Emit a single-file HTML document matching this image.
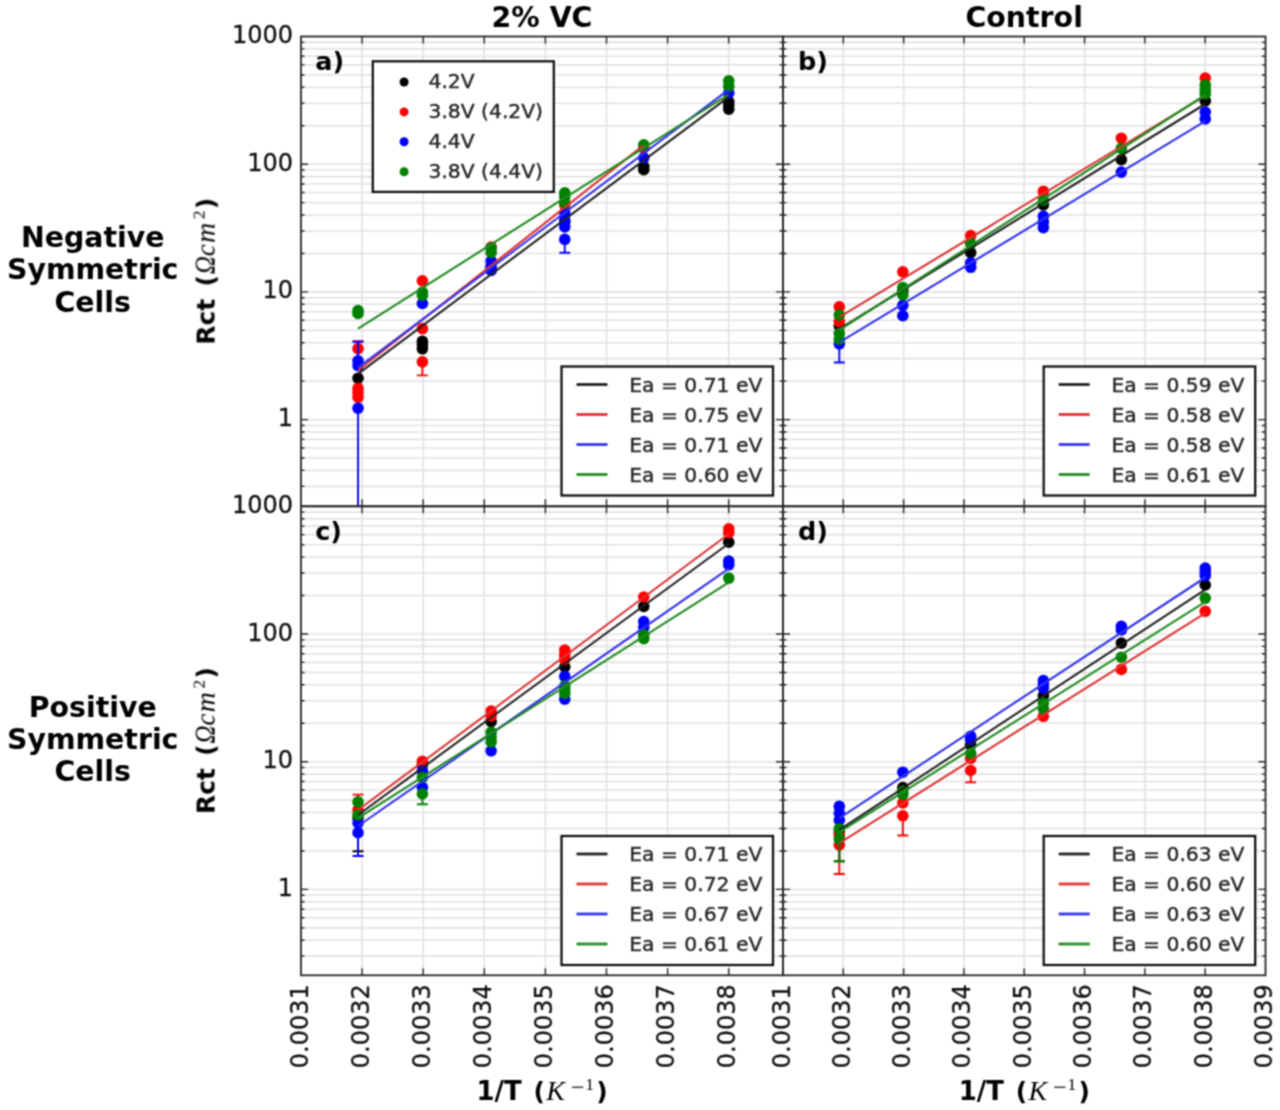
<!DOCTYPE html>
<html><head><meta charset="utf-8"><title>Rct vs 1/T</title>
<style>html,body{margin:0;padding:0;background:#fff;}body{width:1280px;height:1110px;overflow:hidden;}svg{display:block;}</style>
</head><body>
<svg id="fig" width="1280" height="1110" viewBox="0 0 1280 1110"><defs><filter id="bl" x="0" y="0" width="1" height="1" color-interpolation-filters="sRGB"><feConvolveMatrix order="3" kernelMatrix="1 2 1 2 4 2 1 2 1" edgeMode="none"/></filter></defs><rect width="1280" height="1110" fill="#fff"/><g filter="url(#bl)"><path d="M362.10 36.50V506.30M423.20 36.50V506.30M484.30 36.50V506.30M545.40 36.50V506.30M606.50 36.50V506.30M667.60 36.50V506.30M728.70 36.50V506.30M301.00 486.37H783.00M301.00 470.42H783.00M301.00 458.04H783.00M301.00 447.93H783.00M301.00 439.38H783.00M301.00 431.98H783.00M301.00 425.44H783.00M301.00 419.60H783.00M301.00 381.16H783.00M301.00 358.67H783.00M301.00 342.72H783.00M301.00 330.34H783.00M301.00 320.23H783.00M301.00 311.68H783.00M301.00 304.28H783.00M301.00 297.74H783.00M301.00 291.90H783.00M301.00 253.46H783.00M301.00 230.97H783.00M301.00 215.02H783.00M301.00 202.64H783.00M301.00 192.53H783.00M301.00 183.98H783.00M301.00 176.58H783.00M301.00 170.04H783.00M301.00 164.20H783.00M301.00 125.76H783.00M301.00 103.27H783.00M301.00 87.32H783.00M301.00 74.94H783.00M301.00 64.83H783.00M301.00 56.28H783.00M301.00 48.88H783.00M301.00 42.34H783.00M362.10 506.30V975.30M423.20 506.30V975.30M484.30 506.30V975.30M545.40 506.30V975.30M606.50 506.30V975.30M667.60 506.30V975.30M728.70 506.30V975.30M301.00 956.17H783.00M301.00 940.22H783.00M301.00 927.84H783.00M301.00 917.73H783.00M301.00 909.18H783.00M301.00 901.78H783.00M301.00 895.24H783.00M301.00 889.40H783.00M301.00 850.96H783.00M301.00 828.47H783.00M301.00 812.52H783.00M301.00 800.14H783.00M301.00 790.03H783.00M301.00 781.48H783.00M301.00 774.08H783.00M301.00 767.54H783.00M301.00 761.70H783.00M301.00 723.26H783.00M301.00 700.77H783.00M301.00 684.82H783.00M301.00 672.44H783.00M301.00 662.33H783.00M301.00 653.78H783.00M301.00 646.38H783.00M301.00 639.84H783.00M301.00 634.00H783.00M301.00 595.56H783.00M301.00 573.07H783.00M301.00 557.12H783.00M301.00 544.74H783.00M301.00 534.63H783.00M301.00 526.08H783.00M301.00 518.68H783.00M301.00 512.14H783.00M843.31 36.50V506.30M903.62 36.50V506.30M963.94 36.50V506.30M1024.25 36.50V506.30M1084.56 36.50V506.30M1144.88 36.50V506.30M1205.19 36.50V506.30M783.00 486.37H1265.50M783.00 470.42H1265.50M783.00 458.04H1265.50M783.00 447.93H1265.50M783.00 439.38H1265.50M783.00 431.98H1265.50M783.00 425.44H1265.50M783.00 419.60H1265.50M783.00 381.16H1265.50M783.00 358.67H1265.50M783.00 342.72H1265.50M783.00 330.34H1265.50M783.00 320.23H1265.50M783.00 311.68H1265.50M783.00 304.28H1265.50M783.00 297.74H1265.50M783.00 291.90H1265.50M783.00 253.46H1265.50M783.00 230.97H1265.50M783.00 215.02H1265.50M783.00 202.64H1265.50M783.00 192.53H1265.50M783.00 183.98H1265.50M783.00 176.58H1265.50M783.00 170.04H1265.50M783.00 164.20H1265.50M783.00 125.76H1265.50M783.00 103.27H1265.50M783.00 87.32H1265.50M783.00 74.94H1265.50M783.00 64.83H1265.50M783.00 56.28H1265.50M783.00 48.88H1265.50M783.00 42.34H1265.50M843.31 506.30V975.30M903.62 506.30V975.30M963.94 506.30V975.30M1024.25 506.30V975.30M1084.56 506.30V975.30M1144.88 506.30V975.30M1205.19 506.30V975.30M783.00 956.17H1265.50M783.00 940.22H1265.50M783.00 927.84H1265.50M783.00 917.73H1265.50M783.00 909.18H1265.50M783.00 901.78H1265.50M783.00 895.24H1265.50M783.00 889.40H1265.50M783.00 850.96H1265.50M783.00 828.47H1265.50M783.00 812.52H1265.50M783.00 800.14H1265.50M783.00 790.03H1265.50M783.00 781.48H1265.50M783.00 774.08H1265.50M783.00 767.54H1265.50M783.00 761.70H1265.50M783.00 723.26H1265.50M783.00 700.77H1265.50M783.00 684.82H1265.50M783.00 672.44H1265.50M783.00 662.33H1265.50M783.00 653.78H1265.50M783.00 646.38H1265.50M783.00 639.84H1265.50M783.00 634.00H1265.50M783.00 595.56H1265.50M783.00 573.07H1265.50M783.00 557.12H1265.50M783.00 544.74H1265.50M783.00 534.63H1265.50M783.00 526.08H1265.50M783.00 518.68H1265.50M783.00 512.14H1265.50" stroke="#e2e2e2" stroke-width="1.6" fill="none"/><svg x="301.0" y="36.5" width="482.0" height="469.8" viewBox="301.0 36.5 482.0 469.8" overflow="hidden"><circle cx="358.04" cy="378.20" r="5.8" fill="#000000"/><circle cx="422.40" cy="341.20" r="5.8" fill="#000000"/><circle cx="422.40" cy="345.00" r="5.8" fill="#000000"/><circle cx="422.40" cy="348.80" r="5.8" fill="#000000"/><circle cx="491.16" cy="268.00" r="5.8" fill="#000000"/><circle cx="564.77" cy="222.00" r="5.8" fill="#000000"/><circle cx="643.77" cy="166.50" r="5.8" fill="#000000"/><circle cx="643.77" cy="169.70" r="5.8" fill="#000000"/><circle cx="728.77" cy="101.60" r="5.8" fill="#000000"/><circle cx="728.77" cy="105.00" r="5.8" fill="#000000"/><circle cx="728.77" cy="109.20" r="5.8" fill="#000000"/><path d="M358.04 348.60V341.30" stroke="#ff0000" stroke-width="1.9" fill="none"/><path d="M352.54 341.30H363.54" stroke="#ff0000" stroke-width="1.9" fill="none"/><path d="M422.40 361.90V375.40" stroke="#ff0000" stroke-width="1.9" fill="none"/><path d="M416.90 375.40H427.90" stroke="#ff0000" stroke-width="1.9" fill="none"/><circle cx="358.04" cy="348.60" r="5.8" fill="#ff0000"/><circle cx="358.04" cy="388.30" r="5.8" fill="#ff0000"/><circle cx="358.04" cy="392.50" r="5.8" fill="#ff0000"/><circle cx="358.04" cy="397.30" r="5.8" fill="#ff0000"/><circle cx="422.40" cy="280.80" r="5.8" fill="#ff0000"/><circle cx="422.40" cy="328.60" r="5.8" fill="#ff0000"/><circle cx="422.40" cy="361.90" r="5.8" fill="#ff0000"/><circle cx="491.16" cy="247.00" r="5.8" fill="#ff0000"/><circle cx="564.77" cy="205.00" r="5.8" fill="#ff0000"/><circle cx="643.77" cy="148.00" r="5.8" fill="#ff0000"/><path d="M358.04 360.80V341.80" stroke="#0000ff" stroke-width="1.9" fill="none"/><path d="M352.54 341.80H363.54" stroke="#0000ff" stroke-width="1.9" fill="none"/><path d="M358.04 408.20V520.00" stroke="#0000ff" stroke-width="1.9" fill="none"/><path d="M564.77 239.40V252.70" stroke="#0000ff" stroke-width="1.9" fill="none"/><path d="M559.27 252.70H570.27" stroke="#0000ff" stroke-width="1.9" fill="none"/><circle cx="358.04" cy="360.80" r="5.8" fill="#0000ff"/><circle cx="358.04" cy="365.70" r="5.8" fill="#0000ff"/><circle cx="358.04" cy="408.20" r="5.8" fill="#0000ff"/><circle cx="422.40" cy="303.50" r="5.8" fill="#0000ff"/><circle cx="491.16" cy="261.00" r="5.8" fill="#0000ff"/><circle cx="491.16" cy="266.00" r="5.8" fill="#0000ff"/><circle cx="491.16" cy="270.50" r="5.8" fill="#0000ff"/><circle cx="564.77" cy="213.00" r="5.8" fill="#0000ff"/><circle cx="564.77" cy="220.00" r="5.8" fill="#0000ff"/><circle cx="564.77" cy="227.00" r="5.8" fill="#0000ff"/><circle cx="564.77" cy="239.40" r="5.8" fill="#0000ff"/><circle cx="643.77" cy="157.80" r="5.8" fill="#0000ff"/><circle cx="728.77" cy="93.00" r="5.8" fill="#0000ff"/><circle cx="358.04" cy="310.50" r="5.8" fill="#008000"/><circle cx="358.04" cy="313.50" r="5.8" fill="#008000"/><circle cx="422.40" cy="292.20" r="5.8" fill="#008000"/><circle cx="422.40" cy="295.30" r="5.8" fill="#008000"/><circle cx="491.16" cy="248.00" r="5.8" fill="#008000"/><circle cx="491.16" cy="252.50" r="5.8" fill="#008000"/><circle cx="564.77" cy="192.80" r="5.8" fill="#008000"/><circle cx="564.77" cy="197.00" r="5.8" fill="#008000"/><circle cx="564.77" cy="202.90" r="5.8" fill="#008000"/><circle cx="643.77" cy="144.90" r="5.8" fill="#008000"/><circle cx="728.77" cy="80.80" r="5.8" fill="#008000"/><circle cx="728.77" cy="86.50" r="5.8" fill="#008000"/><path d="M358.04 373.80L728.77 96.90" stroke="#222222" stroke-width="2.1" fill="none"/><path d="M358.04 370.50L643.77 145.10" stroke="#dd3333" stroke-width="2.1" fill="none"/><path d="M358.04 367.70L728.77 89.70" stroke="#3333ee" stroke-width="2.1" fill="none"/><path d="M358.04 328.60L728.77 94.30" stroke="#228b22" stroke-width="2.1" fill="none"/></svg><svg x="301.0" y="506.3" width="482.0" height="468.99999999999994" viewBox="301.0 506.3 482.0 468.99999999999994" overflow="hidden"><path d="M358.04 818.00V851.30" stroke="#000000" stroke-width="1.9" fill="none"/><path d="M352.54 851.30H363.54" stroke="#000000" stroke-width="1.9" fill="none"/><circle cx="358.04" cy="818.00" r="5.8" fill="#000000"/><circle cx="422.40" cy="764.60" r="5.8" fill="#000000"/><circle cx="491.16" cy="721.60" r="5.8" fill="#000000"/><circle cx="564.77" cy="667.00" r="5.8" fill="#000000"/><circle cx="643.77" cy="606.50" r="5.8" fill="#000000"/><circle cx="728.77" cy="542.20" r="5.8" fill="#000000"/><path d="M358.04 810.00V794.60" stroke="#ff0000" stroke-width="1.9" fill="none"/><path d="M352.54 794.60H363.54" stroke="#ff0000" stroke-width="1.9" fill="none"/><circle cx="358.04" cy="810.00" r="5.8" fill="#ff0000"/><circle cx="422.40" cy="761.30" r="5.8" fill="#ff0000"/><circle cx="491.16" cy="711.00" r="5.8" fill="#ff0000"/><circle cx="491.16" cy="716.00" r="5.8" fill="#ff0000"/><circle cx="564.77" cy="650.00" r="5.8" fill="#ff0000"/><circle cx="564.77" cy="655.00" r="5.8" fill="#ff0000"/><circle cx="564.77" cy="659.40" r="5.8" fill="#ff0000"/><circle cx="643.77" cy="597.00" r="5.8" fill="#ff0000"/><circle cx="728.77" cy="528.90" r="5.8" fill="#ff0000"/><circle cx="728.77" cy="532.70" r="5.8" fill="#ff0000"/><path d="M358.04 832.70V856.00" stroke="#0000ff" stroke-width="1.9" fill="none"/><path d="M352.54 856.00H363.54" stroke="#0000ff" stroke-width="1.9" fill="none"/><circle cx="358.04" cy="823.00" r="5.8" fill="#0000ff"/><circle cx="358.04" cy="832.70" r="5.8" fill="#0000ff"/><circle cx="422.40" cy="771.00" r="5.8" fill="#0000ff"/><circle cx="422.40" cy="787.30" r="5.8" fill="#0000ff"/><circle cx="491.16" cy="750.80" r="5.8" fill="#0000ff"/><circle cx="564.77" cy="676.40" r="5.8" fill="#0000ff"/><circle cx="564.77" cy="699.10" r="5.8" fill="#0000ff"/><circle cx="643.77" cy="621.60" r="5.8" fill="#0000ff"/><circle cx="643.77" cy="627.30" r="5.8" fill="#0000ff"/><circle cx="728.77" cy="561.00" r="5.8" fill="#0000ff"/><circle cx="728.77" cy="564.80" r="5.8" fill="#0000ff"/><path d="M422.40 793.80V804.30" stroke="#008000" stroke-width="1.9" fill="none"/><path d="M416.90 804.30H427.90" stroke="#008000" stroke-width="1.9" fill="none"/><circle cx="358.04" cy="801.90" r="5.8" fill="#008000"/><circle cx="358.04" cy="814.80" r="5.8" fill="#008000"/><circle cx="422.40" cy="777.50" r="5.8" fill="#008000"/><circle cx="422.40" cy="793.80" r="5.8" fill="#008000"/><circle cx="491.16" cy="732.20" r="5.8" fill="#008000"/><circle cx="491.16" cy="737.00" r="5.8" fill="#008000"/><circle cx="491.16" cy="741.90" r="5.8" fill="#008000"/><circle cx="564.77" cy="685.90" r="5.8" fill="#008000"/><circle cx="564.77" cy="689.70" r="5.8" fill="#008000"/><circle cx="564.77" cy="693.50" r="5.8" fill="#008000"/><circle cx="643.77" cy="634.80" r="5.8" fill="#008000"/><circle cx="643.77" cy="638.60" r="5.8" fill="#008000"/><circle cx="728.77" cy="578.10" r="5.8" fill="#008000"/><path d="M358.04 815.00L728.77 543.50" stroke="#222222" stroke-width="2.1" fill="none"/><path d="M358.04 810.00L728.77 534.00" stroke="#dd3333" stroke-width="2.1" fill="none"/><path d="M358.04 826.00L728.77 568.60" stroke="#3333ee" stroke-width="2.1" fill="none"/><path d="M358.04 818.00L728.77 582.30" stroke="#228b22" stroke-width="2.1" fill="none"/></svg><svg x="783.0" y="36.5" width="482.5" height="469.8" viewBox="783.0 36.5 482.5 469.8" overflow="hidden"><circle cx="839.31" cy="326.10" r="5.8" fill="#000000"/><circle cx="902.84" cy="291.00" r="5.8" fill="#000000"/><circle cx="970.71" cy="252.60" r="5.8" fill="#000000"/><circle cx="1043.37" cy="205.00" r="5.8" fill="#000000"/><circle cx="1121.35" cy="159.70" r="5.8" fill="#000000"/><circle cx="1205.26" cy="100.80" r="5.8" fill="#000000"/><circle cx="839.31" cy="306.80" r="5.8" fill="#ff0000"/><circle cx="839.31" cy="321.60" r="5.8" fill="#ff0000"/><circle cx="902.84" cy="271.90" r="5.8" fill="#ff0000"/><circle cx="970.71" cy="235.60" r="5.8" fill="#ff0000"/><circle cx="1043.37" cy="191.40" r="5.8" fill="#ff0000"/><circle cx="1121.35" cy="138.20" r="5.8" fill="#ff0000"/><circle cx="1205.26" cy="78.10" r="5.8" fill="#ff0000"/><path d="M839.31 343.90V362.50" stroke="#0000ff" stroke-width="1.9" fill="none"/><path d="M833.81 362.50H844.81" stroke="#0000ff" stroke-width="1.9" fill="none"/><circle cx="839.31" cy="343.90" r="5.8" fill="#0000ff"/><circle cx="902.84" cy="305.30" r="5.8" fill="#0000ff"/><circle cx="902.84" cy="315.70" r="5.8" fill="#0000ff"/><circle cx="970.71" cy="262.80" r="5.8" fill="#0000ff"/><circle cx="970.71" cy="267.30" r="5.8" fill="#0000ff"/><circle cx="1043.37" cy="216.30" r="5.8" fill="#0000ff"/><circle cx="1043.37" cy="222.00" r="5.8" fill="#0000ff"/><circle cx="1043.37" cy="227.60" r="5.8" fill="#0000ff"/><circle cx="1121.35" cy="172.10" r="5.8" fill="#0000ff"/><circle cx="1205.26" cy="112.10" r="5.8" fill="#0000ff"/><circle cx="1205.26" cy="118.90" r="5.8" fill="#0000ff"/><circle cx="839.31" cy="315.00" r="5.8" fill="#008000"/><circle cx="839.31" cy="333.50" r="5.8" fill="#008000"/><circle cx="839.31" cy="339.50" r="5.8" fill="#008000"/><circle cx="902.84" cy="287.50" r="5.8" fill="#008000"/><circle cx="902.84" cy="295.00" r="5.8" fill="#008000"/><circle cx="970.71" cy="243.50" r="5.8" fill="#008000"/><circle cx="1043.37" cy="200.50" r="5.8" fill="#008000"/><circle cx="1121.35" cy="148.40" r="5.8" fill="#008000"/><circle cx="1205.26" cy="85.00" r="5.8" fill="#008000"/><circle cx="1205.26" cy="90.00" r="5.8" fill="#008000"/><circle cx="1205.26" cy="94.00" r="5.8" fill="#008000"/><path d="M839.31 329.00L1205.26 104.00" stroke="#222222" stroke-width="2.1" fill="none"/><path d="M839.31 317.20L1205.26 95.60" stroke="#dd3333" stroke-width="2.1" fill="none"/><path d="M839.31 342.40L1205.26 121.20" stroke="#3333ee" stroke-width="2.1" fill="none"/><path d="M839.31 330.00L1205.26 95.00" stroke="#228b22" stroke-width="2.1" fill="none"/></svg><svg x="783.0" y="506.3" width="482.5" height="468.99999999999994" viewBox="783.0 506.3 482.5 468.99999999999994" overflow="hidden"><path d="M839.31 832.00V861.20" stroke="#000000" stroke-width="1.9" fill="none"/><path d="M833.81 861.20H844.81" stroke="#000000" stroke-width="1.9" fill="none"/><circle cx="839.31" cy="832.00" r="5.8" fill="#000000"/><circle cx="902.84" cy="787.60" r="5.8" fill="#000000"/><circle cx="970.71" cy="744.80" r="5.8" fill="#000000"/><circle cx="1043.37" cy="695.60" r="5.8" fill="#000000"/><circle cx="1121.35" cy="643.10" r="5.8" fill="#000000"/><circle cx="1205.26" cy="585.00" r="5.8" fill="#000000"/><path d="M839.31 844.90V874.00" stroke="#ff0000" stroke-width="1.9" fill="none"/><path d="M833.81 874.00H844.81" stroke="#ff0000" stroke-width="1.9" fill="none"/><path d="M902.84 815.80V835.50" stroke="#ff0000" stroke-width="1.9" fill="none"/><path d="M897.34 835.50H908.34" stroke="#ff0000" stroke-width="1.9" fill="none"/><path d="M970.71 770.50V782.40" stroke="#ff0000" stroke-width="1.9" fill="none"/><path d="M965.21 782.40H976.21" stroke="#ff0000" stroke-width="1.9" fill="none"/><circle cx="839.31" cy="835.50" r="5.8" fill="#ff0000"/><circle cx="839.31" cy="844.90" r="5.8" fill="#ff0000"/><circle cx="902.84" cy="803.00" r="5.8" fill="#ff0000"/><circle cx="902.84" cy="815.80" r="5.8" fill="#ff0000"/><circle cx="970.71" cy="758.50" r="5.8" fill="#ff0000"/><circle cx="970.71" cy="770.50" r="5.8" fill="#ff0000"/><circle cx="1043.37" cy="716.30" r="5.8" fill="#ff0000"/><circle cx="1121.35" cy="669.40" r="5.8" fill="#ff0000"/><circle cx="1205.26" cy="611.30" r="5.8" fill="#ff0000"/><circle cx="839.31" cy="806.40" r="5.8" fill="#0000ff"/><circle cx="839.31" cy="813.20" r="5.8" fill="#0000ff"/><circle cx="839.31" cy="820.10" r="5.8" fill="#0000ff"/><circle cx="902.84" cy="772.20" r="5.8" fill="#0000ff"/><circle cx="970.71" cy="736.20" r="5.8" fill="#0000ff"/><circle cx="970.71" cy="739.60" r="5.8" fill="#0000ff"/><circle cx="1043.37" cy="680.60" r="5.8" fill="#0000ff"/><circle cx="1043.37" cy="684.40" r="5.8" fill="#0000ff"/><circle cx="1043.37" cy="688.10" r="5.8" fill="#0000ff"/><circle cx="1121.35" cy="626.30" r="5.8" fill="#0000ff"/><circle cx="1121.35" cy="630.00" r="5.8" fill="#0000ff"/><circle cx="1205.26" cy="568.10" r="5.8" fill="#0000ff"/><circle cx="1205.26" cy="571.90" r="5.8" fill="#0000ff"/><circle cx="1205.26" cy="575.60" r="5.8" fill="#0000ff"/><path d="M839.31 838.90V861.20" stroke="#008000" stroke-width="1.9" fill="none"/><path d="M833.81 861.20H844.81" stroke="#008000" stroke-width="1.9" fill="none"/><circle cx="839.31" cy="828.70" r="5.8" fill="#008000"/><circle cx="839.31" cy="838.90" r="5.8" fill="#008000"/><circle cx="902.84" cy="791.00" r="5.8" fill="#008000"/><circle cx="902.84" cy="794.40" r="5.8" fill="#008000"/><circle cx="970.71" cy="753.30" r="5.8" fill="#008000"/><circle cx="1043.37" cy="703.10" r="5.8" fill="#008000"/><circle cx="1043.37" cy="708.80" r="5.8" fill="#008000"/><circle cx="1121.35" cy="657.20" r="5.8" fill="#008000"/><circle cx="1205.26" cy="598.10" r="5.8" fill="#008000"/><path d="M839.31 830.00L1205.26 589.70" stroke="#222222" stroke-width="2.1" fill="none"/><path d="M839.31 843.20L1205.26 613.10" stroke="#dd3333" stroke-width="2.1" fill="none"/><path d="M839.31 818.20L1205.26 577.50" stroke="#3333ee" stroke-width="2.1" fill="none"/><path d="M839.31 832.10L1205.26 601.90" stroke="#228b22" stroke-width="2.1" fill="none"/></svg><path d="M362.10 506.30v-7M362.10 36.50v7M423.20 506.30v-7M423.20 36.50v7M484.30 506.30v-7M484.30 36.50v7M545.40 506.30v-7M545.40 36.50v7M606.50 506.30v-7M606.50 36.50v7M667.60 506.30v-7M667.60 36.50v7M728.70 506.30v-7M728.70 36.50v7M301.00 486.37h3.5M783.00 486.37h-3.5M301.00 470.42h3.5M783.00 470.42h-3.5M301.00 458.04h3.5M783.00 458.04h-3.5M301.00 447.93h3.5M783.00 447.93h-3.5M301.00 439.38h3.5M783.00 439.38h-3.5M301.00 431.98h3.5M783.00 431.98h-3.5M301.00 425.44h3.5M783.00 425.44h-3.5M301.00 419.60h7M783.00 419.60h-7M301.00 381.16h3.5M783.00 381.16h-3.5M301.00 358.67h3.5M783.00 358.67h-3.5M301.00 342.72h3.5M783.00 342.72h-3.5M301.00 330.34h3.5M783.00 330.34h-3.5M301.00 320.23h3.5M783.00 320.23h-3.5M301.00 311.68h3.5M783.00 311.68h-3.5M301.00 304.28h3.5M783.00 304.28h-3.5M301.00 297.74h3.5M783.00 297.74h-3.5M301.00 291.90h7M783.00 291.90h-7M301.00 253.46h3.5M783.00 253.46h-3.5M301.00 230.97h3.5M783.00 230.97h-3.5M301.00 215.02h3.5M783.00 215.02h-3.5M301.00 202.64h3.5M783.00 202.64h-3.5M301.00 192.53h3.5M783.00 192.53h-3.5M301.00 183.98h3.5M783.00 183.98h-3.5M301.00 176.58h3.5M783.00 176.58h-3.5M301.00 170.04h3.5M783.00 170.04h-3.5M301.00 164.20h7M783.00 164.20h-7M301.00 125.76h3.5M783.00 125.76h-3.5M301.00 103.27h3.5M783.00 103.27h-3.5M301.00 87.32h3.5M783.00 87.32h-3.5M301.00 74.94h3.5M783.00 74.94h-3.5M301.00 64.83h3.5M783.00 64.83h-3.5M301.00 56.28h3.5M783.00 56.28h-3.5M301.00 48.88h3.5M783.00 48.88h-3.5M301.00 42.34h3.5M783.00 42.34h-3.5M362.10 975.30v-7M362.10 506.30v7M423.20 975.30v-7M423.20 506.30v7M484.30 975.30v-7M484.30 506.30v7M545.40 975.30v-7M545.40 506.30v7M606.50 975.30v-7M606.50 506.30v7M667.60 975.30v-7M667.60 506.30v7M728.70 975.30v-7M728.70 506.30v7M301.00 956.17h3.5M783.00 956.17h-3.5M301.00 940.22h3.5M783.00 940.22h-3.5M301.00 927.84h3.5M783.00 927.84h-3.5M301.00 917.73h3.5M783.00 917.73h-3.5M301.00 909.18h3.5M783.00 909.18h-3.5M301.00 901.78h3.5M783.00 901.78h-3.5M301.00 895.24h3.5M783.00 895.24h-3.5M301.00 889.40h7M783.00 889.40h-7M301.00 850.96h3.5M783.00 850.96h-3.5M301.00 828.47h3.5M783.00 828.47h-3.5M301.00 812.52h3.5M783.00 812.52h-3.5M301.00 800.14h3.5M783.00 800.14h-3.5M301.00 790.03h3.5M783.00 790.03h-3.5M301.00 781.48h3.5M783.00 781.48h-3.5M301.00 774.08h3.5M783.00 774.08h-3.5M301.00 767.54h3.5M783.00 767.54h-3.5M301.00 761.70h7M783.00 761.70h-7M301.00 723.26h3.5M783.00 723.26h-3.5M301.00 700.77h3.5M783.00 700.77h-3.5M301.00 684.82h3.5M783.00 684.82h-3.5M301.00 672.44h3.5M783.00 672.44h-3.5M301.00 662.33h3.5M783.00 662.33h-3.5M301.00 653.78h3.5M783.00 653.78h-3.5M301.00 646.38h3.5M783.00 646.38h-3.5M301.00 639.84h3.5M783.00 639.84h-3.5M301.00 634.00h7M783.00 634.00h-7M301.00 595.56h3.5M783.00 595.56h-3.5M301.00 573.07h3.5M783.00 573.07h-3.5M301.00 557.12h3.5M783.00 557.12h-3.5M301.00 544.74h3.5M783.00 544.74h-3.5M301.00 534.63h3.5M783.00 534.63h-3.5M301.00 526.08h3.5M783.00 526.08h-3.5M301.00 518.68h3.5M783.00 518.68h-3.5M301.00 512.14h3.5M783.00 512.14h-3.5M843.31 506.30v-7M843.31 36.50v7M903.62 506.30v-7M903.62 36.50v7M963.94 506.30v-7M963.94 36.50v7M1024.25 506.30v-7M1024.25 36.50v7M1084.56 506.30v-7M1084.56 36.50v7M1144.88 506.30v-7M1144.88 36.50v7M1205.19 506.30v-7M1205.19 36.50v7M783.00 486.37h3.5M1265.50 486.37h-3.5M783.00 470.42h3.5M1265.50 470.42h-3.5M783.00 458.04h3.5M1265.50 458.04h-3.5M783.00 447.93h3.5M1265.50 447.93h-3.5M783.00 439.38h3.5M1265.50 439.38h-3.5M783.00 431.98h3.5M1265.50 431.98h-3.5M783.00 425.44h3.5M1265.50 425.44h-3.5M783.00 419.60h7M1265.50 419.60h-7M783.00 381.16h3.5M1265.50 381.16h-3.5M783.00 358.67h3.5M1265.50 358.67h-3.5M783.00 342.72h3.5M1265.50 342.72h-3.5M783.00 330.34h3.5M1265.50 330.34h-3.5M783.00 320.23h3.5M1265.50 320.23h-3.5M783.00 311.68h3.5M1265.50 311.68h-3.5M783.00 304.28h3.5M1265.50 304.28h-3.5M783.00 297.74h3.5M1265.50 297.74h-3.5M783.00 291.90h7M1265.50 291.90h-7M783.00 253.46h3.5M1265.50 253.46h-3.5M783.00 230.97h3.5M1265.50 230.97h-3.5M783.00 215.02h3.5M1265.50 215.02h-3.5M783.00 202.64h3.5M1265.50 202.64h-3.5M783.00 192.53h3.5M1265.50 192.53h-3.5M783.00 183.98h3.5M1265.50 183.98h-3.5M783.00 176.58h3.5M1265.50 176.58h-3.5M783.00 170.04h3.5M1265.50 170.04h-3.5M783.00 164.20h7M1265.50 164.20h-7M783.00 125.76h3.5M1265.50 125.76h-3.5M783.00 103.27h3.5M1265.50 103.27h-3.5M783.00 87.32h3.5M1265.50 87.32h-3.5M783.00 74.94h3.5M1265.50 74.94h-3.5M783.00 64.83h3.5M1265.50 64.83h-3.5M783.00 56.28h3.5M1265.50 56.28h-3.5M783.00 48.88h3.5M1265.50 48.88h-3.5M783.00 42.34h3.5M1265.50 42.34h-3.5M843.31 975.30v-7M843.31 506.30v7M903.62 975.30v-7M903.62 506.30v7M963.94 975.30v-7M963.94 506.30v7M1024.25 975.30v-7M1024.25 506.30v7M1084.56 975.30v-7M1084.56 506.30v7M1144.88 975.30v-7M1144.88 506.30v7M1205.19 975.30v-7M1205.19 506.30v7M783.00 956.17h3.5M1265.50 956.17h-3.5M783.00 940.22h3.5M1265.50 940.22h-3.5M783.00 927.84h3.5M1265.50 927.84h-3.5M783.00 917.73h3.5M1265.50 917.73h-3.5M783.00 909.18h3.5M1265.50 909.18h-3.5M783.00 901.78h3.5M1265.50 901.78h-3.5M783.00 895.24h3.5M1265.50 895.24h-3.5M783.00 889.40h7M1265.50 889.40h-7M783.00 850.96h3.5M1265.50 850.96h-3.5M783.00 828.47h3.5M1265.50 828.47h-3.5M783.00 812.52h3.5M1265.50 812.52h-3.5M783.00 800.14h3.5M1265.50 800.14h-3.5M783.00 790.03h3.5M1265.50 790.03h-3.5M783.00 781.48h3.5M1265.50 781.48h-3.5M783.00 774.08h3.5M1265.50 774.08h-3.5M783.00 767.54h3.5M1265.50 767.54h-3.5M783.00 761.70h7M1265.50 761.70h-7M783.00 723.26h3.5M1265.50 723.26h-3.5M783.00 700.77h3.5M1265.50 700.77h-3.5M783.00 684.82h3.5M1265.50 684.82h-3.5M783.00 672.44h3.5M1265.50 672.44h-3.5M783.00 662.33h3.5M1265.50 662.33h-3.5M783.00 653.78h3.5M1265.50 653.78h-3.5M783.00 646.38h3.5M1265.50 646.38h-3.5M783.00 639.84h3.5M1265.50 639.84h-3.5M783.00 634.00h7M1265.50 634.00h-7M783.00 595.56h3.5M1265.50 595.56h-3.5M783.00 573.07h3.5M1265.50 573.07h-3.5M783.00 557.12h3.5M1265.50 557.12h-3.5M783.00 544.74h3.5M1265.50 544.74h-3.5M783.00 534.63h3.5M1265.50 534.63h-3.5M783.00 526.08h3.5M1265.50 526.08h-3.5M783.00 518.68h3.5M1265.50 518.68h-3.5M783.00 512.14h3.5M1265.50 512.14h-3.5" stroke="#262626" stroke-width="1.4" fill="none"/><rect x="301.0" y="36.5" width="482.0" height="469.8" fill="none" stroke="#262626" stroke-width="1.8"/><rect x="301.0" y="506.3" width="482.0" height="468.99999999999994" fill="none" stroke="#262626" stroke-width="1.8"/><rect x="783.0" y="36.5" width="482.5" height="469.8" fill="none" stroke="#262626" stroke-width="1.8"/><rect x="783.0" y="506.3" width="482.5" height="468.99999999999994" fill="none" stroke="#262626" stroke-width="1.8"/><rect x="561.5" y="366.5" width="211.5" height="129" fill="#fff" stroke="#111" stroke-width="2.3"/><path d="M576.5 384.5h31" stroke="#222222" stroke-width="2.8" fill="none"/><text x="629.2" y="391.8" font-family="'DejaVu Sans','Liberation Sans',sans-serif" font-size="20.3" fill="#262626" stroke="#262626" stroke-width="0.4">Ea = 0.71 eV</text><path d="M576.5 414.5h31" stroke="#dd3333" stroke-width="2.8" fill="none"/><text x="629.2" y="421.8" font-family="'DejaVu Sans','Liberation Sans',sans-serif" font-size="20.3" fill="#262626" stroke="#262626" stroke-width="0.4">Ea = 0.75 eV</text><path d="M576.5 444.5h31" stroke="#3333ee" stroke-width="2.8" fill="none"/><text x="629.2" y="451.8" font-family="'DejaVu Sans','Liberation Sans',sans-serif" font-size="20.3" fill="#262626" stroke="#262626" stroke-width="0.4">Ea = 0.71 eV</text><path d="M576.5 474.5h31" stroke="#228b22" stroke-width="2.8" fill="none"/><text x="629.2" y="481.8" font-family="'DejaVu Sans','Liberation Sans',sans-serif" font-size="20.3" fill="#262626" stroke="#262626" stroke-width="0.4">Ea = 0.60 eV</text><rect x="1043.7" y="366.5" width="211.5" height="129" fill="#fff" stroke="#111" stroke-width="2.3"/><path d="M1058.7 384.5h31" stroke="#222222" stroke-width="2.8" fill="none"/><text x="1111.4" y="391.8" font-family="'DejaVu Sans','Liberation Sans',sans-serif" font-size="20.3" fill="#262626" stroke="#262626" stroke-width="0.4">Ea = 0.59 eV</text><path d="M1058.7 414.5h31" stroke="#dd3333" stroke-width="2.8" fill="none"/><text x="1111.4" y="421.8" font-family="'DejaVu Sans','Liberation Sans',sans-serif" font-size="20.3" fill="#262626" stroke="#262626" stroke-width="0.4">Ea = 0.58 eV</text><path d="M1058.7 444.5h31" stroke="#3333ee" stroke-width="2.8" fill="none"/><text x="1111.4" y="451.8" font-family="'DejaVu Sans','Liberation Sans',sans-serif" font-size="20.3" fill="#262626" stroke="#262626" stroke-width="0.4">Ea = 0.58 eV</text><path d="M1058.7 474.5h31" stroke="#228b22" stroke-width="2.8" fill="none"/><text x="1111.4" y="481.8" font-family="'DejaVu Sans','Liberation Sans',sans-serif" font-size="20.3" fill="#262626" stroke="#262626" stroke-width="0.4">Ea = 0.61 eV</text><rect x="561.5" y="836.0" width="211.5" height="129" fill="#fff" stroke="#111" stroke-width="2.3"/><path d="M576.5 854.0h31" stroke="#222222" stroke-width="2.8" fill="none"/><text x="629.2" y="861.3" font-family="'DejaVu Sans','Liberation Sans',sans-serif" font-size="20.3" fill="#262626" stroke="#262626" stroke-width="0.4">Ea = 0.71 eV</text><path d="M576.5 884.0h31" stroke="#dd3333" stroke-width="2.8" fill="none"/><text x="629.2" y="891.3" font-family="'DejaVu Sans','Liberation Sans',sans-serif" font-size="20.3" fill="#262626" stroke="#262626" stroke-width="0.4">Ea = 0.72 eV</text><path d="M576.5 914.0h31" stroke="#3333ee" stroke-width="2.8" fill="none"/><text x="629.2" y="921.3" font-family="'DejaVu Sans','Liberation Sans',sans-serif" font-size="20.3" fill="#262626" stroke="#262626" stroke-width="0.4">Ea = 0.67 eV</text><path d="M576.5 944.0h31" stroke="#228b22" stroke-width="2.8" fill="none"/><text x="629.2" y="951.3" font-family="'DejaVu Sans','Liberation Sans',sans-serif" font-size="20.3" fill="#262626" stroke="#262626" stroke-width="0.4">Ea = 0.61 eV</text><rect x="1043.7" y="836.0" width="211.5" height="129" fill="#fff" stroke="#111" stroke-width="2.3"/><path d="M1058.7 854.0h31" stroke="#222222" stroke-width="2.8" fill="none"/><text x="1111.4" y="861.3" font-family="'DejaVu Sans','Liberation Sans',sans-serif" font-size="20.3" fill="#262626" stroke="#262626" stroke-width="0.4">Ea = 0.63 eV</text><path d="M1058.7 884.0h31" stroke="#dd3333" stroke-width="2.8" fill="none"/><text x="1111.4" y="891.3" font-family="'DejaVu Sans','Liberation Sans',sans-serif" font-size="20.3" fill="#262626" stroke="#262626" stroke-width="0.4">Ea = 0.60 eV</text><path d="M1058.7 914.0h31" stroke="#3333ee" stroke-width="2.8" fill="none"/><text x="1111.4" y="921.3" font-family="'DejaVu Sans','Liberation Sans',sans-serif" font-size="20.3" fill="#262626" stroke="#262626" stroke-width="0.4">Ea = 0.63 eV</text><path d="M1058.7 944.0h31" stroke="#228b22" stroke-width="2.8" fill="none"/><text x="1111.4" y="951.3" font-family="'DejaVu Sans','Liberation Sans',sans-serif" font-size="20.3" fill="#262626" stroke="#262626" stroke-width="0.4">Ea = 0.60 eV</text><rect x="372.8" y="61.3" width="181" height="130.6" fill="#fff" stroke="#111" stroke-width="2.3"/><circle cx="404.1" cy="82.0" r="4.5" fill="#000000"/><text x="428.5" y="88.2" font-family="'DejaVu Sans','Liberation Sans',sans-serif" font-size="20.3" fill="#262626" stroke="#262626" stroke-width="0.4">4.2V</text><circle cx="404.1" cy="111.9" r="4.5" fill="#ff0000"/><text x="428.5" y="118.1" font-family="'DejaVu Sans','Liberation Sans',sans-serif" font-size="20.3" fill="#262626" stroke="#262626" stroke-width="0.4">3.8V (4.2V)</text><circle cx="404.1" cy="141.8" r="4.5" fill="#0000ff"/><text x="428.5" y="148.0" font-family="'DejaVu Sans','Liberation Sans',sans-serif" font-size="20.3" fill="#262626" stroke="#262626" stroke-width="0.4">4.4V</text><circle cx="404.1" cy="171.7" r="4.5" fill="#008000"/><text x="428.5" y="177.9" font-family="'DejaVu Sans','Liberation Sans',sans-serif" font-size="20.3" fill="#262626" stroke="#262626" stroke-width="0.4">3.8V (4.4V)</text><text x="315.2" y="69.6" font-family="'DejaVu Sans','Liberation Sans',sans-serif" font-weight="bold" font-size="25.5" fill="#000">a)</text><text x="797.9" y="69.6" font-family="'DejaVu Sans','Liberation Sans',sans-serif" font-weight="bold" font-size="25.5" fill="#000">b)</text><text x="315.2" y="539.6" font-family="'DejaVu Sans','Liberation Sans',sans-serif" font-weight="bold" font-size="25.5" fill="#000">c)</text><text x="797.9" y="539.6" font-family="'DejaVu Sans','Liberation Sans',sans-serif" font-weight="bold" font-size="25.5" fill="#000">d)</text><text x="293" y="43.0" text-anchor="end" font-family="'DejaVu Sans','Liberation Sans',sans-serif" font-size="24" fill="#111" stroke="#111" stroke-width="0.3">1000</text><text x="293" y="170.7" text-anchor="end" font-family="'DejaVu Sans','Liberation Sans',sans-serif" font-size="24" fill="#111" stroke="#111" stroke-width="0.3">100</text><text x="293" y="298.4" text-anchor="end" font-family="'DejaVu Sans','Liberation Sans',sans-serif" font-size="24" fill="#111" stroke="#111" stroke-width="0.3">10</text><text x="293" y="426.1" text-anchor="end" font-family="'DejaVu Sans','Liberation Sans',sans-serif" font-size="24" fill="#111" stroke="#111" stroke-width="0.3">1</text><text x="293" y="512.8" text-anchor="end" font-family="'DejaVu Sans','Liberation Sans',sans-serif" font-size="24" fill="#111" stroke="#111" stroke-width="0.3">1000</text><text x="293" y="640.5" text-anchor="end" font-family="'DejaVu Sans','Liberation Sans',sans-serif" font-size="24" fill="#111" stroke="#111" stroke-width="0.3">100</text><text x="293" y="768.2" text-anchor="end" font-family="'DejaVu Sans','Liberation Sans',sans-serif" font-size="24" fill="#111" stroke="#111" stroke-width="0.3">10</text><text x="293" y="895.9" text-anchor="end" font-family="'DejaVu Sans','Liberation Sans',sans-serif" font-size="24" fill="#111" stroke="#111" stroke-width="0.3">1</text><text transform="translate(307.5 984.2) rotate(-90)" text-anchor="end" font-family="'DejaVu Sans','Liberation Sans',sans-serif" font-size="24" fill="#111" stroke="#111" stroke-width="0.3">0.0031</text><text transform="translate(368.6 984.2) rotate(-90)" text-anchor="end" font-family="'DejaVu Sans','Liberation Sans',sans-serif" font-size="24" fill="#111" stroke="#111" stroke-width="0.3">0.0032</text><text transform="translate(429.7 984.2) rotate(-90)" text-anchor="end" font-family="'DejaVu Sans','Liberation Sans',sans-serif" font-size="24" fill="#111" stroke="#111" stroke-width="0.3">0.0033</text><text transform="translate(490.8 984.2) rotate(-90)" text-anchor="end" font-family="'DejaVu Sans','Liberation Sans',sans-serif" font-size="24" fill="#111" stroke="#111" stroke-width="0.3">0.0034</text><text transform="translate(551.9 984.2) rotate(-90)" text-anchor="end" font-family="'DejaVu Sans','Liberation Sans',sans-serif" font-size="24" fill="#111" stroke="#111" stroke-width="0.3">0.0035</text><text transform="translate(613.0 984.2) rotate(-90)" text-anchor="end" font-family="'DejaVu Sans','Liberation Sans',sans-serif" font-size="24" fill="#111" stroke="#111" stroke-width="0.3">0.0036</text><text transform="translate(674.1 984.2) rotate(-90)" text-anchor="end" font-family="'DejaVu Sans','Liberation Sans',sans-serif" font-size="24" fill="#111" stroke="#111" stroke-width="0.3">0.0037</text><text transform="translate(735.2 984.2) rotate(-90)" text-anchor="end" font-family="'DejaVu Sans','Liberation Sans',sans-serif" font-size="24" fill="#111" stroke="#111" stroke-width="0.3">0.0038</text><text transform="translate(789.5 984.2) rotate(-90)" text-anchor="end" font-family="'DejaVu Sans','Liberation Sans',sans-serif" font-size="24" fill="#111" stroke="#111" stroke-width="0.3">0.0031</text><text transform="translate(849.8 984.2) rotate(-90)" text-anchor="end" font-family="'DejaVu Sans','Liberation Sans',sans-serif" font-size="24" fill="#111" stroke="#111" stroke-width="0.3">0.0032</text><text transform="translate(910.1 984.2) rotate(-90)" text-anchor="end" font-family="'DejaVu Sans','Liberation Sans',sans-serif" font-size="24" fill="#111" stroke="#111" stroke-width="0.3">0.0033</text><text transform="translate(970.4 984.2) rotate(-90)" text-anchor="end" font-family="'DejaVu Sans','Liberation Sans',sans-serif" font-size="24" fill="#111" stroke="#111" stroke-width="0.3">0.0034</text><text transform="translate(1030.8 984.2) rotate(-90)" text-anchor="end" font-family="'DejaVu Sans','Liberation Sans',sans-serif" font-size="24" fill="#111" stroke="#111" stroke-width="0.3">0.0035</text><text transform="translate(1091.1 984.2) rotate(-90)" text-anchor="end" font-family="'DejaVu Sans','Liberation Sans',sans-serif" font-size="24" fill="#111" stroke="#111" stroke-width="0.3">0.0036</text><text transform="translate(1151.4 984.2) rotate(-90)" text-anchor="end" font-family="'DejaVu Sans','Liberation Sans',sans-serif" font-size="24" fill="#111" stroke="#111" stroke-width="0.3">0.0037</text><text transform="translate(1211.7 984.2) rotate(-90)" text-anchor="end" font-family="'DejaVu Sans','Liberation Sans',sans-serif" font-size="24" fill="#111" stroke="#111" stroke-width="0.3">0.0038</text><text transform="translate(1272.0 984.2) rotate(-90)" text-anchor="end" font-family="'DejaVu Sans','Liberation Sans',sans-serif" font-size="24" fill="#111" stroke="#111" stroke-width="0.3">0.0039</text><g transform="translate(214.6 344.7) rotate(-90)"><text x="0" y="0" font-family="'DejaVu Sans','Liberation Sans',sans-serif" font-weight="bold" fill="#000" font-size="25">Rct</text><text x="58.3" y="0" font-family="'DejaVu Sans','Liberation Sans',sans-serif" font-weight="bold" fill="#000" font-size="25">(</text><text transform="translate(70.6 0) scale(1 1.17)" font-family="'Liberation Serif','DejaVu Serif',serif" font-style="italic" fill="#000" font-size="25">Ω</text><text x="88.6" y="0" font-family="'Liberation Serif','DejaVu Serif',serif" font-style="italic" fill="#000" font-size="27">c</text><text x="101.8" y="0" font-family="'Liberation Serif','DejaVu Serif',serif" font-style="italic" fill="#000" font-size="28">m</text><text x="125.6" y="-10.2" font-family="'Liberation Serif','DejaVu Serif',serif" fill="#000" font-size="17.5">2</text><text x="135.6" y="0" font-family="'DejaVu Sans','Liberation Sans',sans-serif" font-weight="bold" fill="#000" font-size="25">)</text></g><g transform="translate(214.6 814.1) rotate(-90)"><text x="0" y="0" font-family="'DejaVu Sans','Liberation Sans',sans-serif" font-weight="bold" fill="#000" font-size="25">Rct</text><text x="58.3" y="0" font-family="'DejaVu Sans','Liberation Sans',sans-serif" font-weight="bold" fill="#000" font-size="25">(</text><text transform="translate(70.6 0) scale(1 1.17)" font-family="'Liberation Serif','DejaVu Serif',serif" font-style="italic" fill="#000" font-size="25">Ω</text><text x="88.6" y="0" font-family="'Liberation Serif','DejaVu Serif',serif" font-style="italic" fill="#000" font-size="27">c</text><text x="101.8" y="0" font-family="'Liberation Serif','DejaVu Serif',serif" font-style="italic" fill="#000" font-size="28">m</text><text x="125.6" y="-10.2" font-family="'Liberation Serif','DejaVu Serif',serif" fill="#000" font-size="17.5">2</text><text x="135.6" y="0" font-family="'DejaVu Sans','Liberation Sans',sans-serif" font-weight="bold" fill="#000" font-size="25">)</text></g><g transform="translate(477.0 1099.6)"><text x="-0.4" y="0" font-family="'DejaVu Sans','Liberation Sans',sans-serif" font-weight="bold" fill="#000" font-size="25.9">1/T</text><text x="56.5" y="0" font-family="'DejaVu Sans','Liberation Sans',sans-serif" font-weight="bold" fill="#000" font-size="25">(</text><text x="69.2" y="0.5" font-family="'Liberation Serif','DejaVu Serif',serif" font-style="italic" fill="#000" font-size="28">K</text><text x="94.0" y="-5.0" font-family="'Liberation Serif','DejaVu Serif',serif" fill="#000" font-size="24">−</text><text x="108.2" y="-9.6" font-family="'Liberation Serif','DejaVu Serif',serif" fill="#000" font-size="17.5">1</text><text x="119.3" y="0" font-family="'DejaVu Sans','Liberation Sans',sans-serif" font-weight="bold" fill="#000" font-size="25">)</text></g><g transform="translate(959.2 1099.6)"><text x="-0.4" y="0" font-family="'DejaVu Sans','Liberation Sans',sans-serif" font-weight="bold" fill="#000" font-size="25.9">1/T</text><text x="56.5" y="0" font-family="'DejaVu Sans','Liberation Sans',sans-serif" font-weight="bold" fill="#000" font-size="25">(</text><text x="69.2" y="0.5" font-family="'Liberation Serif','DejaVu Serif',serif" font-style="italic" fill="#000" font-size="28">K</text><text x="94.0" y="-5.0" font-family="'Liberation Serif','DejaVu Serif',serif" fill="#000" font-size="24">−</text><text x="108.2" y="-9.6" font-family="'Liberation Serif','DejaVu Serif',serif" fill="#000" font-size="17.5">1</text><text x="119.3" y="0" font-family="'DejaVu Sans','Liberation Sans',sans-serif" font-weight="bold" fill="#000" font-size="25">)</text></g><text x="542" y="27" text-anchor="middle" font-family="'DejaVu Sans','Liberation Sans',sans-serif" font-weight="bold" font-size="28.4" fill="#000">2% VC</text><text x="1024.2" y="27" text-anchor="middle" font-family="'DejaVu Sans','Liberation Sans',sans-serif" font-weight="bold" font-size="28.4" fill="#000">Control</text><text x="92.7" y="247.0" text-anchor="middle" font-family="'DejaVu Sans','Liberation Sans',sans-serif" font-weight="bold" font-size="28.4" fill="#000">Negative</text><text x="92.7" y="279.3" text-anchor="middle" font-family="'DejaVu Sans','Liberation Sans',sans-serif" font-weight="bold" font-size="28.4" fill="#000">Symmetric</text><text x="92.7" y="311.6" text-anchor="middle" font-family="'DejaVu Sans','Liberation Sans',sans-serif" font-weight="bold" font-size="28.4" fill="#000">Cells</text><text x="92.7" y="716.5" text-anchor="middle" font-family="'DejaVu Sans','Liberation Sans',sans-serif" font-weight="bold" font-size="28.4" fill="#000">Positive</text><text x="92.7" y="748.8" text-anchor="middle" font-family="'DejaVu Sans','Liberation Sans',sans-serif" font-weight="bold" font-size="28.4" fill="#000">Symmetric</text><text x="92.7" y="781.1" text-anchor="middle" font-family="'DejaVu Sans','Liberation Sans',sans-serif" font-weight="bold" font-size="28.4" fill="#000">Cells</text></g></svg>
</body></html>
